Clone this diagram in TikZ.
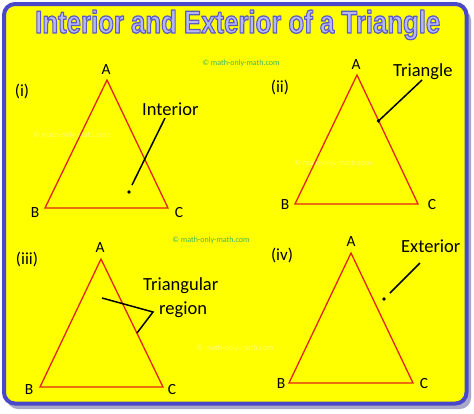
\documentclass[tikz,border=0pt]{standalone}
\usepackage{fontspec}
\usepackage{graphicx}
\setmainfont{Carlito}
\newfontfamily\titlefont{Liberation Sans}
\definecolor{bgyellow}{HTML}{FFFF00}
\definecolor{frameblue}{HTML}{4848C8}
\definecolor{frameshadow}{HTML}{A8A8C8}
\definecolor{titlefill}{HTML}{B8B8F4}
\definecolor{trired}{HTML}{E42418}
\definecolor{wmgreen}{HTML}{3CB464}
\newcommand{\ttltext}{\resizebox{405pt}{23pt}{\titlefont\bfseries\color{titlefill}%
  \special{pdf:literal direct 2 Tr 0.4 w 1 j 0.353 0.353 0.77 RG}%
  Interior and Exterior of a Triangle%
  \special{pdf:literal direct 0 Tr}}}
\tikzset{
  tri/.style={draw=trired, line width=1.3pt, line join=miter},
  pointer/.style={draw=black, line width=1.5pt},
  dotmark/.style={circle, fill=black, inner sep=0pt, minimum size=3.6pt},
  vlabel/.style={font=\fontsize{15.5}{18}\selectfont, inner sep=0pt, anchor=base},
  numlabel/.style={font=\fontsize{17}{20}\selectfont, inner sep=0pt},
  wordlabel/.style={font=\fontsize{18.5}{22}\selectfont, inner sep=0pt, anchor=base west},
  wmgreenstyle/.style={font=\fontsize{8}{9}\selectfont, text=wmgreen, inner sep=0pt},
  wmwhite/.style={font=\fontsize{8}{9}\selectfont, text=white, text opacity=0.45, inner sep=0pt},
  ttl/.style={inner sep=0pt, anchor=base west}
}
\begin{document}
\begin{tikzpicture}[x=1pt,y=-1pt]
\useasboundingbox (0,0) rectangle (474,413);
\fill[white] (0,0) rectangle (474,413);
% frame
\fill[frameshadow, rounded corners=11pt] (7,9) rectangle (471,409);
\draw[frameblue, line width=4pt, fill=bgyellow, rounded corners=11pt] (4,4) rectangle (466.5,403.5);
% title
\node[ttl, name=title] at (35,33) {\ttltext};
% watermarks
\node[wmgreenstyle, name=wm1] at (241,63) {© math-only-math.com};
\node[wmgreenstyle, name=wm2] at (211,240) {© math-only-math.com};
\node[wmwhite, name=wm3] at (72,135) {© math-only-math.com};
\node[wmwhite, name=wm4] at (333,163) {© math-only-math.com};
\node[wmwhite, name=wm5] at (235,348) {© math-only-math.com};
% (i)
\coordinate (A1) at (107,80); \coordinate (B1) at (45,208); \coordinate (C1) at (168,208);
\draw[tri] (A1) -- (B1) -- (C1) -- cycle;
\node[vlabel, name=lA1] at (106,74) {A};
\node[vlabel, name=lB1] at (35,217) {B};
\node[vlabel, name=lC1] at (179,217) {C};
\node[numlabel, name=n1] at (22,91) {(i)};
\node[wordlabel, name=w1] at (142,115) {Interior};
\coordinate (p1) at (165,118);
\node[dotmark, name=d1] at (129,192) {};
\draw[pointer] (p1) -- (132,185);
% (ii)
\coordinate (A2) at (357,75); \coordinate (B2) at (295,204); \coordinate (C2) at (418,204);
\draw[tri] (A2) -- (B2) -- (C2) -- cycle;
\node[vlabel, name=lA2] at (356,69) {A};
\node[vlabel, name=lB2] at (285,209) {B};
\node[vlabel, name=lC2] at (432,209) {C};
\node[numlabel, name=n2] at (280,87) {(ii)};
\node[wordlabel, name=w2] at (393,76) {Triangle};
\coordinate (p2) at (422,80);
\node[dotmark, name=d2] at (378.5,121) {};
\draw[pointer] (p2) -- (d2.center);
% (iii)
\coordinate (A3) at (101,259); \coordinate (B3) at (40,387); \coordinate (C3) at (163,387);
\draw[tri] (A3) -- (B3) -- (C3) -- cycle;
\node[vlabel, name=lA3] at (100,252) {A};
\node[vlabel, name=lB3] at (29,394) {B};
\node[vlabel, name=lC3] at (172,394) {C};
\node[numlabel, name=n3] at (27,259) {(iii)};
\node[wordlabel, name=w3a] at (143,290) {Triangular};
\node[wordlabel, name=w3b] at (159,314) {region};
\coordinate (p3a) at (102,298); \coordinate (p3m) at (153,312); \coordinate (p3b) at (137,333);
\draw[pointer, line join=miter] (p3a) -- (p3m) -- (p3b);
% (iv)
\coordinate (A4) at (351,253); \coordinate (B4) at (289,383); \coordinate (C4) at (413,383);
\draw[tri] (A4) -- (B4) -- (C4) -- cycle;
\node[vlabel, name=lA4] at (351,246) {A};
\node[vlabel, name=lB4] at (281,388) {B};
\node[vlabel, name=lC4] at (424,388) {C};
\node[numlabel, name=n4] at (282,255) {(iv)};
\node[wordlabel, name=w4] at (401,252) {Exterior};
\coordinate (p4) at (420,263);
\node[dotmark, name=d4] at (384,299) {};
\draw[pointer] (p4) -- (390,293);
\end{tikzpicture}
\end{document}
